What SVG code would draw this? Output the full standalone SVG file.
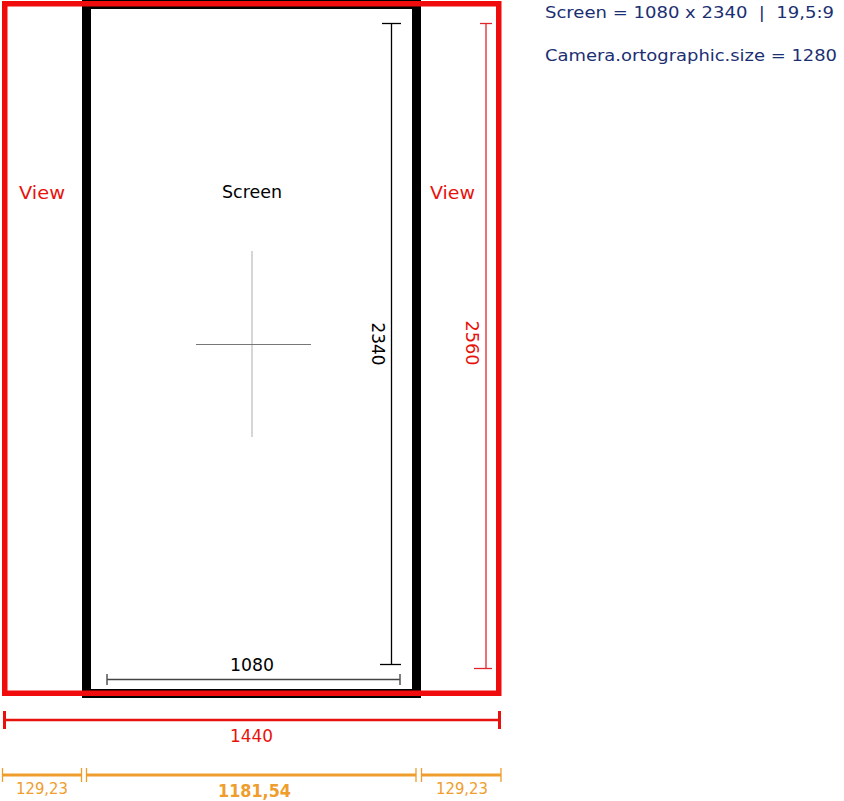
<svg xmlns="http://www.w3.org/2000/svg" width="844" height="801" viewBox="0 0 844 801">
<style>
text{font-family:"DejaVu Sans","Verdana",sans-serif;font-size:17px}
.red{fill:#e8120c}
.org{fill:#ef9d2c}
.navy{fill:#1b2f72}
.blk{fill:#000}
</style>
<rect width="844" height="801" fill="#fff"/>
<g id="screen">
<rect x="86.5" y="4.5" width="330" height="689" fill="none" stroke="#000" stroke-width="9"/>
<text class="blk" x="222" y="198" textLength="60" lengthAdjust="spacingAndGlyphs">Screen</text>
</g>
<g id="view">
<rect x="4.75" y="3.75" width="494" height="689.5" fill="none" stroke="#f00c0c" stroke-width="5.5"/>
<text class="red" x="19" y="199" style="font-size:18.5px" textLength="46" lengthAdjust="spacingAndGlyphs">View</text>
<text class="red" x="430" y="199" style="font-size:18.5px" textLength="45" lengthAdjust="spacingAndGlyphs">View</text>
</g>
<g id="crosshair">
<line x1="252" y1="251" x2="252" y2="437" stroke="#bbb" stroke-width="1.2"/>
<line x1="196" y1="344.5" x2="311" y2="344.5" stroke="#777" stroke-width="1.2"/>
</g>
<g id="connectors">
<g id="dim-2340">
<line x1="391.5" y1="23" x2="391.5" y2="664" stroke="#000" stroke-width="1.3"/>
<line x1="382" y1="23.5" x2="401" y2="23.5" stroke="#000" stroke-width="1.3"/>
<line x1="380" y1="664.5" x2="401" y2="664.5" stroke="#000" stroke-width="1.3"/>
<text class="blk" transform="translate(372 322.5) rotate(90)" textLength="43" lengthAdjust="spacingAndGlyphs">2340</text>
</g>
<g id="dim-2560">
<line x1="486" y1="23" x2="486" y2="668" stroke="#e0262a" stroke-width="1.3"/>
<line x1="480" y1="23.5" x2="492" y2="23.5" stroke="#e0262a" stroke-width="1.3"/>
<line x1="474" y1="668.5" x2="492" y2="668.5" stroke="#e0262a" stroke-width="1.3"/>
<text class="red" transform="translate(465.5 320.5) rotate(90)" textLength="45" lengthAdjust="spacingAndGlyphs">2560</text>
</g>
<g id="dim-1080">
<line x1="107" y1="679.5" x2="400" y2="679.5" stroke="#444" stroke-width="1.5"/>
<line x1="107" y1="674" x2="107" y2="685" stroke="#555" stroke-width="1.5"/>
<line x1="400" y1="674" x2="400" y2="685" stroke="#555" stroke-width="1.5"/>
<text class="blk" x="230" y="671" textLength="44" lengthAdjust="spacingAndGlyphs">1080</text>
</g>
<g id="dim-1440">
<line x1="3" y1="720" x2="500" y2="720" stroke="#e8120c" stroke-width="2.5"/>
<line x1="4.5" y1="711" x2="4.5" y2="729" stroke="#e8120c" stroke-width="3"/>
<line x1="499.5" y1="711" x2="499.5" y2="729" stroke="#e8120c" stroke-width="3"/>
<text class="red" x="230" y="742" textLength="43" lengthAdjust="spacingAndGlyphs">1440</text>
</g>
<g id="dim-orange" stroke="#ef9d2c">
<line x1="3" y1="775" x2="82" y2="775" stroke-width="3"/>
<line x1="2.5" y1="768" x2="2.5" y2="782" stroke-width="1.3"/>
<line x1="81.5" y1="768" x2="81.5" y2="782" stroke-width="1.3"/>
<line x1="86.5" y1="775" x2="416" y2="775" stroke-width="3"/>
<line x1="86.5" y1="768" x2="86.5" y2="782" stroke-width="1.3"/>
<line x1="416" y1="768" x2="416" y2="782" stroke-width="1.3"/>
<line x1="421.5" y1="775" x2="501" y2="775" stroke-width="3"/>
<line x1="421.5" y1="768" x2="421.5" y2="782" stroke-width="1.3"/>
<line x1="501" y1="768" x2="501" y2="782" stroke-width="1.3"/>
</g>
<text class="org" x="16" y="794" style="font-size:15px" textLength="52" lengthAdjust="spacingAndGlyphs">129,23</text>
<text class="org" x="218" y="797" style="font-size:17px;font-weight:bold" textLength="73" lengthAdjust="spacingAndGlyphs">1181,54</text>
<text class="org" x="436" y="794" style="font-size:15px" textLength="52" lengthAdjust="spacingAndGlyphs">129,23</text>
</g>
<g id="info">
<text class="navy" x="545" y="18" style="font-size:16px;white-space:pre" xml:space="preserve" textLength="289" lengthAdjust="spacingAndGlyphs">Screen = 1080 x 2340  |  19,5:9</text>
<text class="navy" x="545" y="61" style="font-size:16px" textLength="292" lengthAdjust="spacingAndGlyphs">Camera.ortographic.size = 1280</text>
</g>
</svg>
